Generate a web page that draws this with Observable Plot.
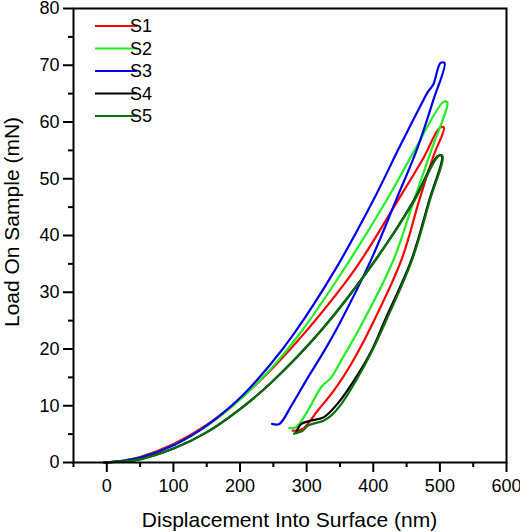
<!DOCTYPE html>
<html>
<head>
<meta charset="utf-8">
<script src="https://cdn.jsdelivr.net/npm/d3@7"></script>
<script src="https://cdn.jsdelivr.net/npm/@observablehq/plot@0.6"></script>
<style>
  html, body { margin: 0; padding: 0; background: #fff; }
  #chart { width: 520px; height: 532px; }
  svg { font-family: "Liberation Sans", Arial, sans-serif; }
</style>
</head>
<body>
<div id="chart"></div>
<script>
// Series names and colours
const seriesNames = ["S1", "S2", "S3", "S4", "S5"];
const seriesColors = ["#ff0000", "#22ee22", "#0000ee", "#000000", "#0a6e0a"];

// Displacement (nm) and load (mN): loading branch then unloading branch
const s1Disp = [-3, 25, 51, 101, 151, 201, 247, 299, 374, 437, 476, 500, 506, 491, 469, 442, 394, 367, 341, 317, 294, 279];
const s1Load = [0, 0.35, 1.0, 3.3, 6.7, 11.3, 16.4, 23.1, 34.3, 46.2, 53.8, 59, 59, 54.2, 46.2, 35.6, 23.3, 17.4, 12.7, 9.2, 5.9, 5.6];

const s2Disp = [-3, 25, 51, 101, 151, 201, 247, 289, 354, 420, 462, 505, 511, 487, 461, 430, 381, 352, 337, 322, 302, 284, 274];
const s2Load = [0, 0.3, 0.9, 3.1, 6.5, 11.2, 16.6, 22.6, 33.7, 46.2, 55, 63.5, 63.5, 55, 46.2, 35.6, 24, 18, 15, 13.3, 9.2, 6.2, 6.1];

const s3Disp = [-3, 25, 51, 101, 151, 201, 247, 281, 342, 400, 439, 475, 482, 490, 501, 507, 490, 465, 434, 397, 348, 323, 302, 277, 259, 248];
const s3Load = [0, 0.3, 0.9, 3.1, 6.6, 11.5, 17.5, 22.7, 33.8, 46.2, 55.5, 63.8, 65.3, 66.6, 70.4, 70.4, 63.8, 55, 46.2, 35.8, 24.2, 19.0, 15, 10.0, 6.8, 6.8];

const s4Disp = [-5, 25, 51, 101, 151, 201, 247, 322, 407, 461, 497, 503, 484, 457, 418, 397, 372, 348, 326, 307, 292, 284];
const s4Load = [0, 0.2, 0.6, 2.5, 5.4, 9.5, 14.1, 23.3, 36.3, 46.2, 54, 54, 46.2, 35.6, 25.2, 19.6, 14.6, 10.6, 8, 7.4, 6.8, 5.2];

const s5Disp = [-5, 25, 51, 101, 151, 201, 247, 322, 407, 462, 498, 504, 485, 458, 420, 398, 374, 352, 337, 326, 302, 294, 281];
const s5Load = [0, 0.2, 0.6, 2.5, 5.4, 9.5, 14.1, 23.3, 36.3, 46.2, 54, 54, 46.2, 35.6, 25.2, 19.6, 14.4, 10.3, 8.3, 7.4, 6.5, 5.6, 5.1];

// Axis ticks
const xMajor = [0, 100, 200, 300, 400, 500, 600];
const xMinor = [-50, 50, 150, 250, 350, 450, 550];
const yMajor = [0, 10, 20, 30, 40, 50, 60, 70, 80];
const yMinor = [5, 15, 25, 35, 45, 55, 65, 75];

const xTitle = "Displacement Into Surface (nm)";
const yTitle = "Load On Sample (mN)";

// Build the table for Plot
const allDisp = [s1Disp, s2Disp, s3Disp, s4Disp, s5Disp];
const allLoad = [s1Load, s2Load, s3Load, s4Load, s5Load];
const rows = [];
seriesNames.forEach((name, i) => {
  allDisp[i].forEach((d, j) => rows.push({series: name, disp: d, load: allLoad[i][j]}));
});

const W = 520, H = 532;
const mL = 73, mR = 14, mT = 8, mB = 70;

const chart = Plot.plot({
  width: W,
  height: H,
  marginLeft: mL,
  marginRight: mR,
  marginTop: mT,
  marginBottom: mB,
  style: {fontFamily: "'Liberation Sans', Arial, sans-serif", fontSize: "18px", color: "#000", background: "#fff", overflow: "visible"},
  x: {domain: [-50, 600]},
  y: {domain: [0, 80]},
  color: {domain: seriesNames, range: seriesColors},
  marks: [
    Plot.line(rows, {x: "disp", y: "load", z: "series", stroke: "series", curve: "catmull-rom", strokeWidth: 2.2, strokeLinejoin: "round", strokeLinecap: "round"}),
    Plot.axisX({ticks: xMajor, tickSize: 10, tickPadding: 7, strokeWidth: 2, label: null, fontSize: 18}),
    Plot.axisX({ticks: xMinor, tickSize: 5, strokeWidth: 2, text: null, label: null}),
    Plot.axisY({ticks: yMajor, tickSize: 10, tickPadding: 4, strokeWidth: 2, label: null, fontSize: 18}),
    Plot.axisY({ticks: yMinor, tickSize: 5, strokeWidth: 2, text: null, label: null}),
    Plot.frame({stroke: "#000", strokeWidth: 2})
  ]
});

document.getElementById("chart").appendChild(chart);

const svg = d3.select(chart);
const plotCx = (mL + (W - mR)) / 2;

// Axis titles
svg.append("text")
  .attr("x", plotCx).attr("y", 527)
  .attr("text-anchor", "middle")
  .style("font-size", "21px").style("fill", "#000")
  .text(xTitle);

svg.append("text")
  .attr("transform", `translate(19,222) rotate(-90)`)
  .attr("text-anchor", "middle")
  .style("font-size", "21px").style("fill", "#000")
  .text(yTitle);

// Legend
const lg = svg.append("g");
seriesNames.forEach((name, i) => {
  const y = 26 + i * 22.5;
  lg.append("line").attr("x1", 95).attr("x2", 137).attr("y1", y).attr("y2", y)
    .attr("stroke", seriesColors[i]).attr("stroke-width", 2.2);
  lg.append("text").attr("x", 141).attr("y", y).attr("dy", "0.36em")
    .style("font-size", "18px").style("fill", "#000").text(name);
});
</script>
</body>
</html>
